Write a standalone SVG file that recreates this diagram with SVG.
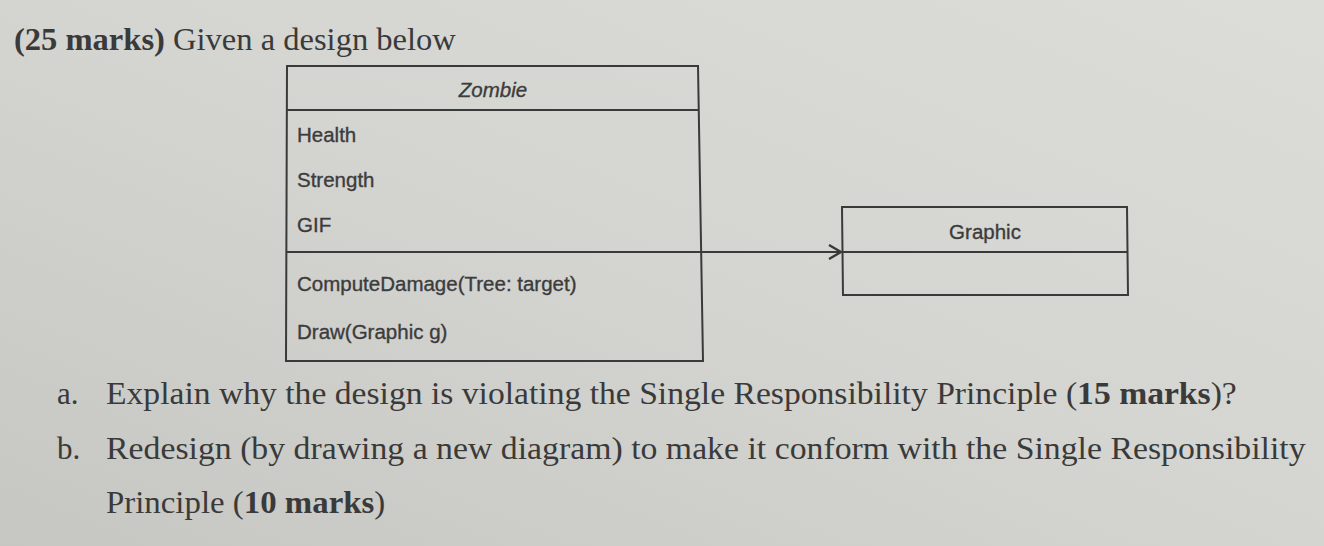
<svg xmlns="http://www.w3.org/2000/svg" width="1324" height="546" viewBox="0 0 1324 546">
  <defs>
    <linearGradient id="paper" x1="1" y1="0" x2="0" y2="1">
      <stop offset="0" stop-color="#dcdcd8"/>
      <stop offset="0.5" stop-color="#d4d4d0"/>
      <stop offset="1" stop-color="#c6c6c2"/>
    </linearGradient>
    <marker id="open-arrow" viewBox="0 0 14 16" refX="13" refY="8" markerWidth="14" markerHeight="16" markerUnits="userSpaceOnUse" orient="auto">
      <path d="M1,1 L13,8 L1,15" fill="none" stroke="#3a3a3a" stroke-width="2.4"/>
    </marker>
    <style>
      .box { fill: none; stroke: #3a3a3a; stroke-width: 2; }
      .div { stroke: #3a3a3a; stroke-width: 2; }
      .uml { font-family: "Liberation Sans", Arial, sans-serif; font-size: 20.5px; fill: #3c3c3c; stroke: #3c3c3c; stroke-width: 0.35px; }
      .q { font-family: "Liberation Serif", "Times New Roman", serif; font-size: 31px; fill: #3a3a3a; }
      .b { font-weight: bold; }
      .conn { fill: none; stroke: #3a3a3a; stroke-width: 2; }
    </style>
  </defs>

  <rect x="0" y="0" width="1324" height="546" fill="url(#paper)"/>

  <text class="q" transform="translate(14 50) scale(1.05 1)" x="0" y="0"><tspan class="b">(25 marks)</tspan> Given a design below</text>

  <g id="node-zombie">
    <polygon class="box" points="287,66 698,66 703,361 286,361"/>
    <line class="div" x1="287" y1="110" x2="699" y2="110"/>
    <line class="div" x1="286" y1="252" x2="701" y2="252"/>
    <text class="uml" x="493" y="97" text-anchor="middle" font-style="italic">Zombie</text>
    <text class="uml" x="297" y="142">Health</text>
    <text class="uml" x="297" y="187">Strength</text>
    <text class="uml" x="297" y="232">GIF</text>
    <text class="uml" x="297" y="291">ComputeDamage(Tree: target)</text>
    <text class="uml" x="297" y="339">Draw(Graphic g)</text>
  </g>

  <g id="node-graphic">
    <polygon class="box" points="842,207 1127,207 1128,295 843,295"/>
    <line class="div" x1="842" y1="252" x2="1127" y2="252"/>
    <text class="uml" x="985" y="239" text-anchor="middle" font-size="21.5">Graphic</text>
  </g>

  <g id="connectors">
    <line class="conn" x1="701" y1="252" x2="841" y2="252" marker-end="url(#open-arrow)"/>
  </g>

  <text class="q" x="57" y="404">a.</text>
  <text class="q" transform="translate(106 404) scale(1.085 1)" x="0" y="0">Explain why the design is violating the Single Responsibility Principle (<tspan class="b">15 marks</tspan>)?</text>
  <text class="q" x="57" y="459">b.</text>
  <text class="q" transform="translate(106 459) scale(1.09 1)" x="0" y="0">Redesign (by drawing a new diagram) to make it conform with the Single Responsibility</text>
  <text class="q" transform="translate(106 513) scale(1.06 1)" x="0" y="0">Principle (<tspan class="b">10 marks</tspan>)</text>
</svg>
